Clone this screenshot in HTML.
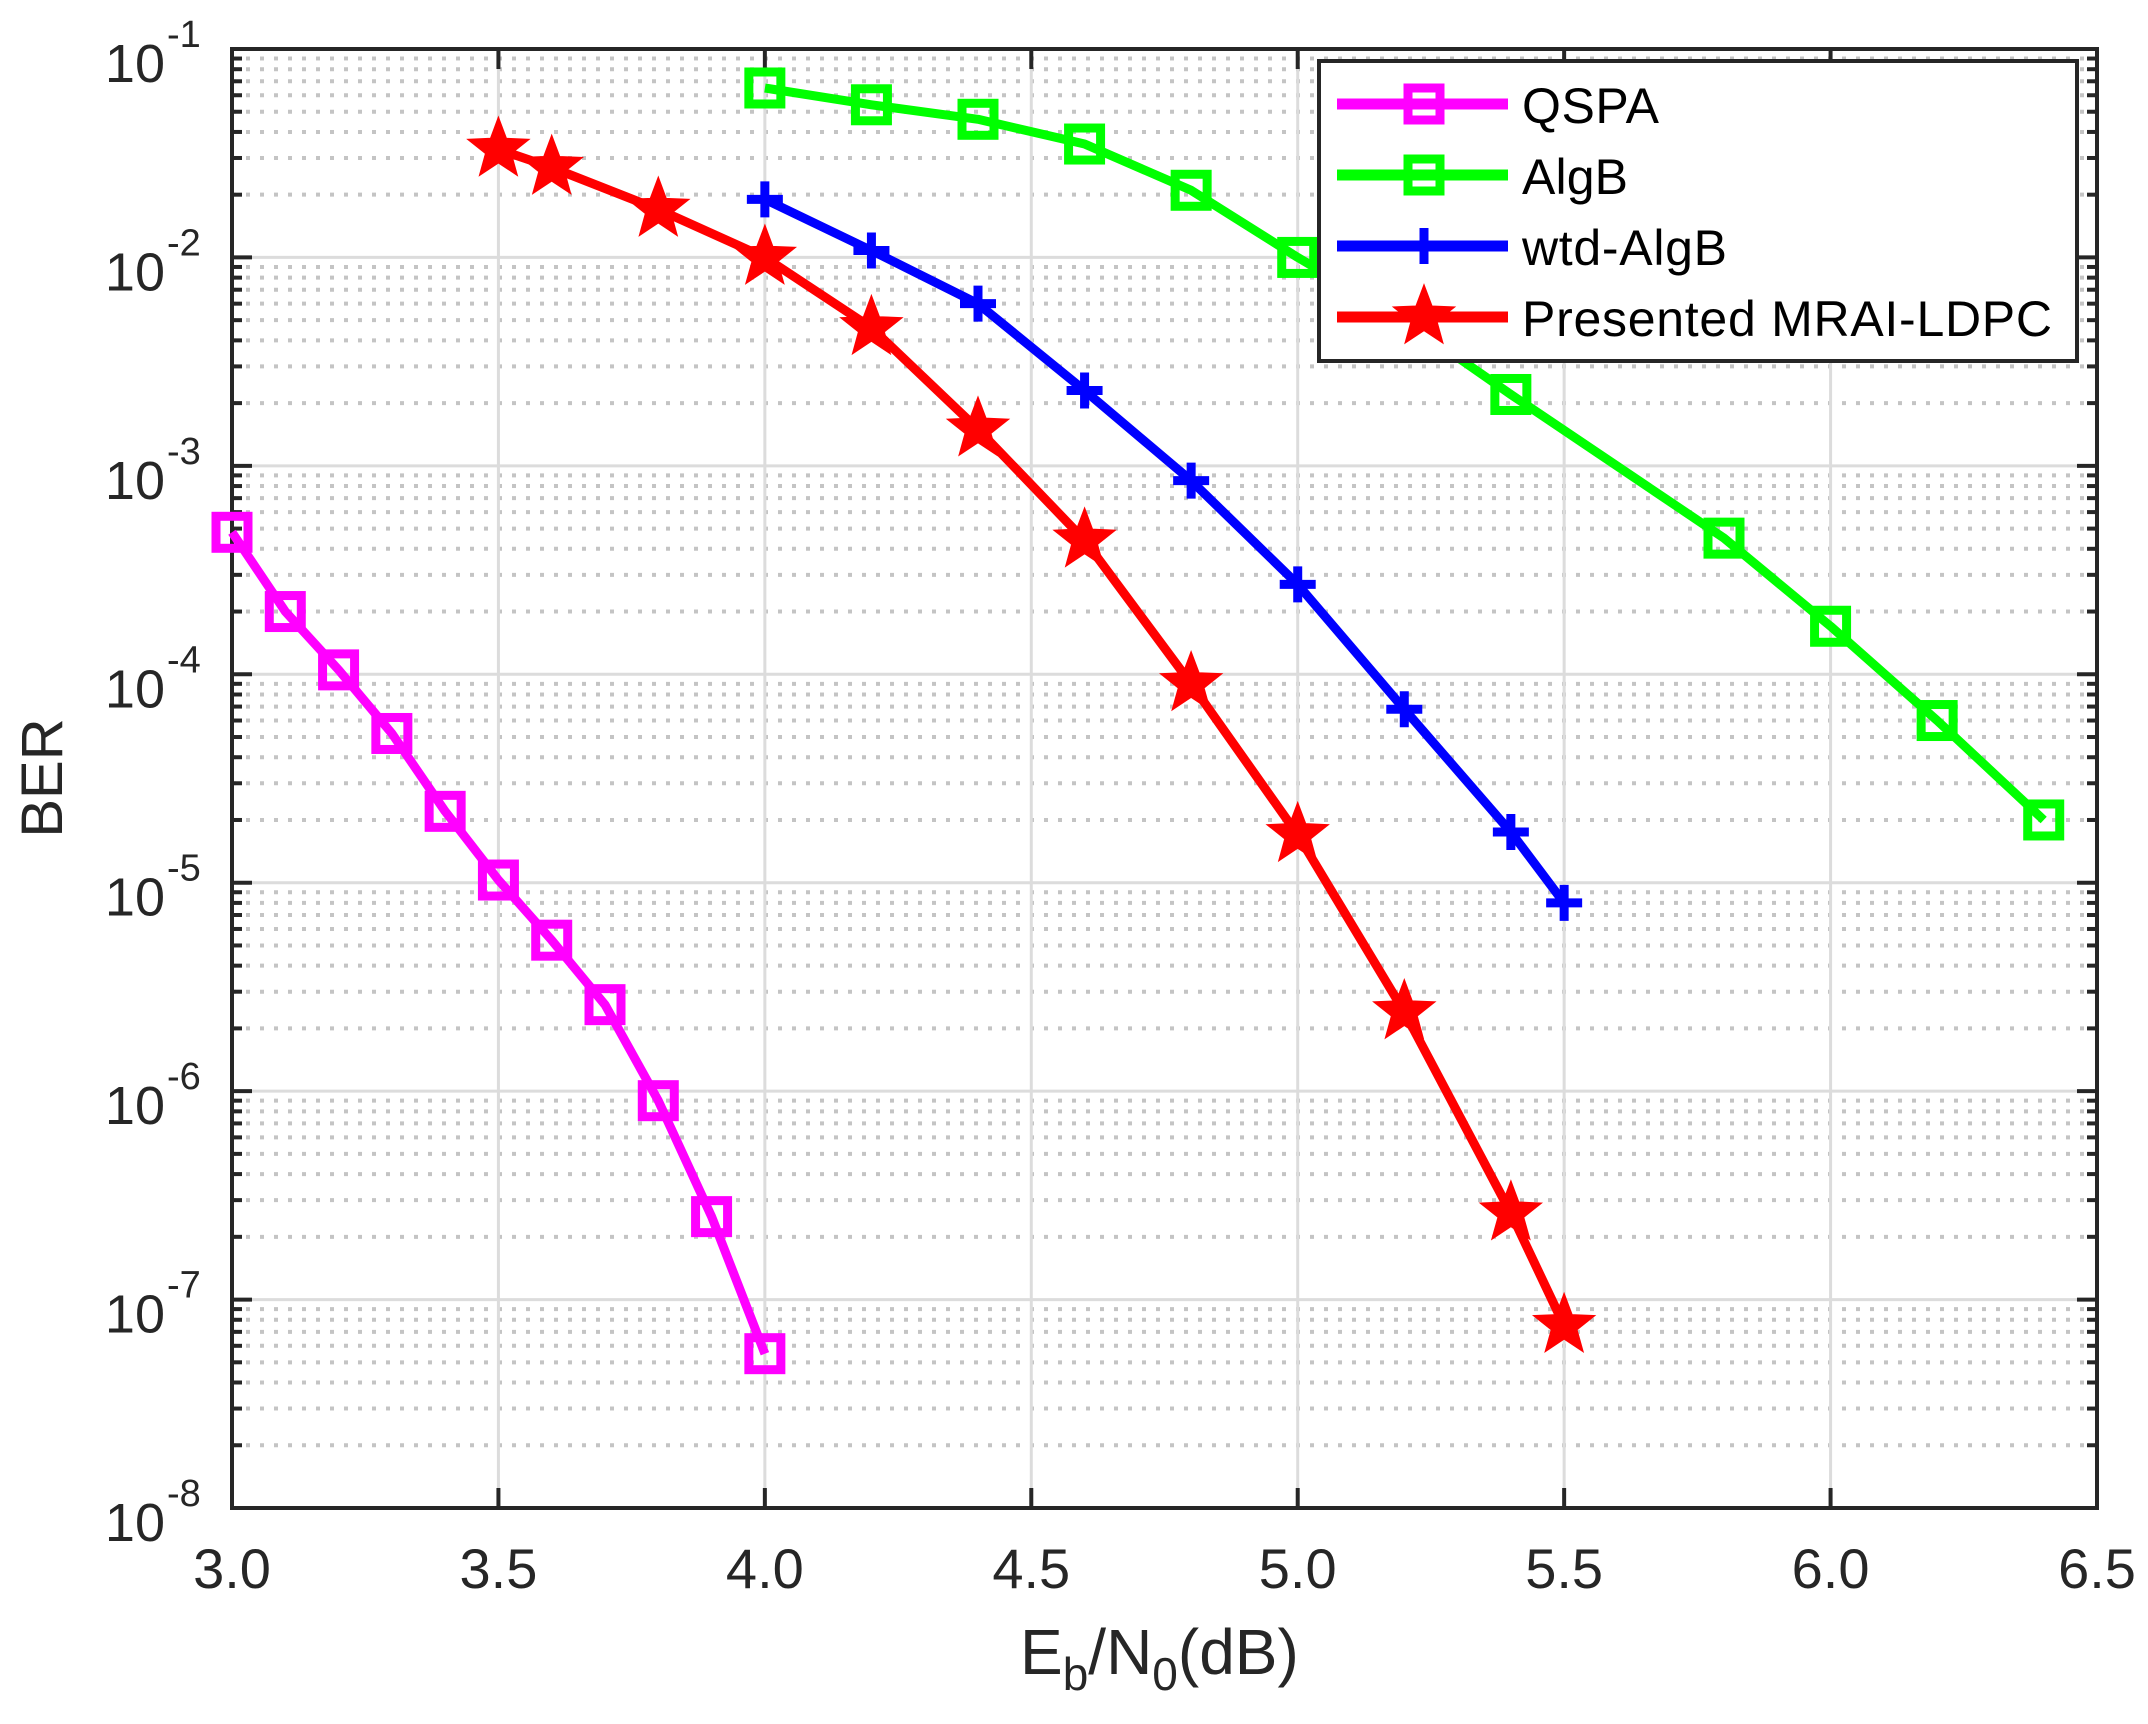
<!DOCTYPE html>
<html><head><meta charset="utf-8"><style>
html,body{margin:0;padding:0;background:#fff;}
svg{display:block;font-family:"Liberation Sans",Arial,sans-serif;}
</style></head><body>
<svg id="s" width="2148" height="1724" viewBox="0 0 2148 1724" xmlns="http://www.w3.org/2000/svg"></svg>
<script>
const s=document.getElementById('s');
const L=232,R=2097,T=49,B=1508;
const X=x=>L+(x-3)/3.5*(R-L);
const Y=v=>T+(-1-Math.log10(v))/7*(B-T);
let h='';
for(let d=-8;d<-1;d++){for(let k=2;k<=9;k++){const y=Y(k*Math.pow(10,d));
h+=`<line x1="${L}" x2="${R}" y1="${y}" y2="${y}" stroke="#c4c4c4" stroke-width="4" stroke-dasharray="4 10"/>`;
h+=`<line x1="${L}" x2="${L+10}" y1="${y}" y2="${y}" stroke="#262626" stroke-width="4"/><line x1="${R-10}" x2="${R}" y1="${y}" y2="${y}" stroke="#262626" stroke-width="4"/>`;}}
for(let d=-7;d<-1;d++){const y=Y(Math.pow(10,d));h+=`<line x1="${L}" x2="${R}" y1="${y}" y2="${y}" stroke="#dcdcdc" stroke-width="3"/>`;}
for(let x=3.5;x<6.5;x+=0.5){const px=X(x);h+=`<line x1="${px}" x2="${px}" y1="${T}" y2="${B}" stroke="#dcdcdc" stroke-width="3"/>`;}
for(let d=-8;d<=-1;d++){const y=Y(Math.pow(10,d));
h+=`<line x1="${L}" x2="${L+20}" y1="${y}" y2="${y}" stroke="#262626" stroke-width="4"/><line x1="${R-20}" x2="${R}" y1="${y}" y2="${y}" stroke="#262626" stroke-width="4"/>`;
h+=`<text x="165" y="${y+33}" font-size="54" text-anchor="end" fill="#262626">10</text><text x="167" y="${y-2}" font-size="38" fill="#262626">-${-d}</text>`;}
for(let x=3;x<=6.5001;x+=0.5){const px=X(x);
h+=`<line x1="${px}" x2="${px}" y1="${B-20}" y2="${B}" stroke="#262626" stroke-width="4"/><line x1="${px}" x2="${px}" y1="${T}" y2="${T+20}" stroke="#262626" stroke-width="4"/>`;
h+=`<text x="${px}" y="1588" font-size="56" text-anchor="middle" fill="#262626">${x.toFixed(1)}</text>`;}
h+=`<rect x="${L}" y="${T}" width="${R-L}" height="${B-T}" fill="none" stroke="#262626" stroke-width="4"/>`;
h+=`<text x="1020" y="1674" font-size="64" fill="#262626">E<tspan font-size="46" dy="16">b</tspan><tspan dy="-16">/N</tspan><tspan font-size="46" dy="16">0</tspan><tspan dy="-16">(dB)</tspan></text>`;
h+=`<text transform="translate(62,778) rotate(-90)" font-size="58" text-anchor="middle" fill="#262626">BER</text>`;
function star(cx,cy,r,c){let p=[];for(let i=0;i<10;i++){const a=-Math.PI/2+i*Math.PI/5,rr=i%2?r*0.42:r;p.push((cx+rr*Math.cos(a)).toFixed(1)+','+(cy+rr*Math.sin(a)).toFixed(1));}return `<polygon points="${p.join(' ')}" fill="${c}" stroke="${c}" stroke-width="2"/>`;}
function mk(type,x,y,c){
 if(type=='s')return `<rect x="${x-16}" y="${y-16}" width="32" height="32" fill="none" stroke="${c}" stroke-width="9"/>`;
 if(type=='p')return `<line x1="${x-18}" x2="${x+18}" y1="${y}" y2="${y}" stroke="${c}" stroke-width="9"/><line x1="${x}" x2="${x}" y1="${y-18}" y2="${y+18}" stroke="${c}" stroke-width="9"/>`;
 return star(x,y,31,c);}
const series=[
 ['#ff00ff','s',[[3,4.8e-4],[3.1,2e-4],[3.2,1.05e-4],[3.3,5.2e-5],[3.4,2.2e-5],[3.5,1.03e-5],[3.6,5.3e-6],[3.7,2.6e-6],[3.8,9e-7],[3.9,2.5e-7],[4.0,5.5e-8]]],
 ['#00ff00','s',[[4,6.5e-2],[4.2,5.4e-2],[4.4,4.6e-2],[4.6,3.5e-2],[4.8,2.1e-2],[5.0,1.0e-2],[5.2,5e-3],[5.4,2.2e-3],[5.8,4.5e-4],[6.0,1.7e-4],[6.2,6e-5],[6.4,2e-5]]],
 ['#0000ff','p',[[4,1.9e-2],[4.2,1.08e-2],[4.4,6e-3],[4.6,2.3e-3],[4.8,8.5e-4],[5.0,2.7e-4],[5.2,6.8e-5],[5.4,1.75e-5],[5.5,8e-6]]],
 ['#ff0000','*',[[3.5,3.3e-2],[3.6,2.7e-2],[3.8,1.7e-2],[4.0,1.0e-2],[4.2,4.6e-3],[4.4,1.5e-3],[4.6,4.4e-4],[4.8,9e-5],[5.0,1.7e-5],[5.2,2.4e-6],[5.4,2.6e-7],[5.5,7.5e-8]]]];
for(const [c,t,d] of series){
 h+=`<polyline points="${d.map(p=>X(p[0]).toFixed(1)+','+Y(p[1]).toFixed(1)).join(' ')}" fill="none" stroke="${c}" stroke-width="9" stroke-linejoin="round"/>`;
 for(const p of d)h+=mk(t,X(p[0]),Y(p[1]),c);}
h+=`<rect x="1319" y="61" width="758" height="300" fill="#fff" stroke="#262626" stroke-width="4"/>`;
const lab=['QSPA','AlgB','wtd-AlgB','Presented MRAI-LDPC'];
for(let i=0;i<4;i++){const [c,t]=series[i];const y=104+i*71;
 h+=`<line x1="1337" x2="1508" y1="${y}" y2="${y}" stroke="${c}" stroke-width="11"/>`+mk(t,1424,y,c);
 h+=`<text x="1522" y="${y+19}" font-size="50" textLength="${[137,106,205,530][i]}" fill="#000">${lab[i]}</text>`;}
s.innerHTML=h;
</script>
</body></html>
